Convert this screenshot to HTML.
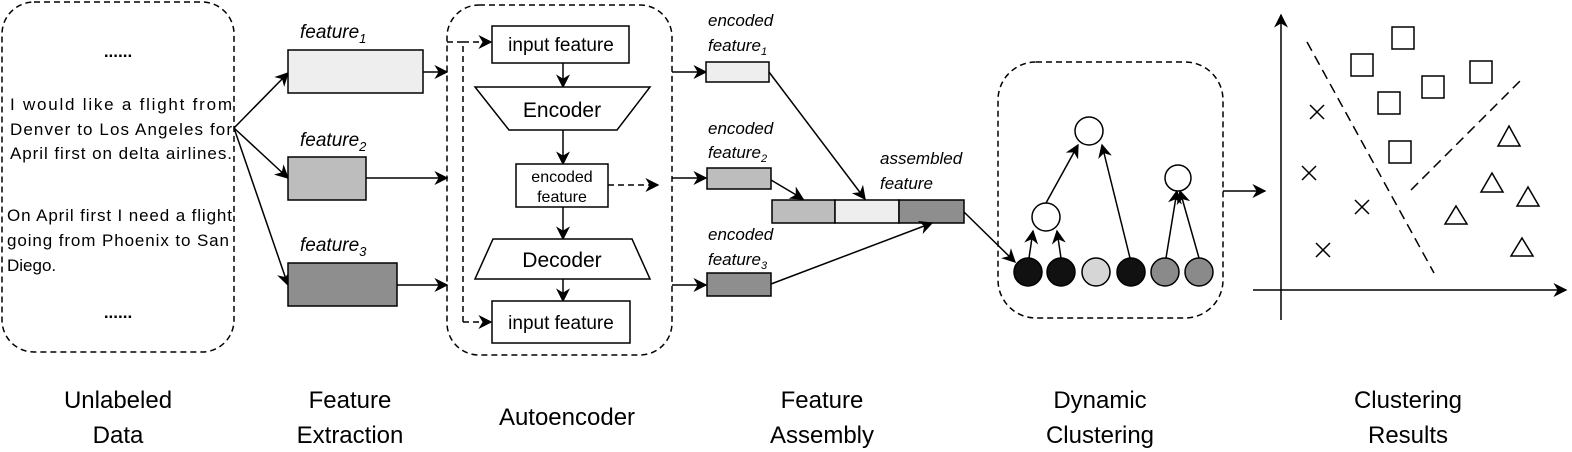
<!DOCTYPE html>
<html><head><meta charset="utf-8"><style>
html,body{margin:0;padding:0;background:#fff}
svg{display:block}
text{font-family:"Liberation Sans",sans-serif;fill:#000}
.it{font-style:italic}
</style></head><body>
<svg width="1572" height="452" viewBox="0 0 1572 452" xmlns="http://www.w3.org/2000/svg">
<defs>
<marker id="b" viewBox="0 0 10 10" refX="9" refY="5" markerWidth="14" markerHeight="14" orient="auto" markerUnits="userSpaceOnUse"><path d="M0,0 L10,5 L0,10 L3,5 z" fill="#000"/></marker>
</defs>
<g fill="none" stroke="#000" stroke-width="1.5">
<rect x="2" y="2" width="232" height="350" rx="32" stroke-dasharray="6,4"/>
<rect x="447" y="5" width="225" height="350" rx="32" stroke-dasharray="6,4"/>
<rect x="998" y="62" width="225" height="256" rx="38" stroke-dasharray="6,4"/>
<line x1="234" y1="128" x2="288" y2="73" marker-end="url(#b)"/>
<line x1="234" y1="128" x2="288" y2="178" marker-end="url(#b)"/>
<line x1="234" y1="128" x2="288" y2="285" marker-end="url(#b)"/>
<line x1="423" y1="72" x2="447" y2="72" marker-end="url(#b)"/>
<line x1="366" y1="178" x2="447" y2="178" marker-end="url(#b)"/>
<line x1="397" y1="285" x2="447" y2="285" marker-end="url(#b)"/>
<path d="M447,42 H463 V322" stroke-dasharray="6,4"/>
<line x1="463" y1="42" x2="491" y2="42" stroke-dasharray="6,4" marker-end="url(#b)"/>
<line x1="463" y1="322" x2="491" y2="322" stroke-dasharray="6,4" marker-end="url(#b)"/>
<rect x="492" y="26" width="137" height="37" fill="#fff"/>
<line x1="563" y1="63" x2="563" y2="87" marker-end="url(#b)"/>
<polygon points="475,87 650,87 617,130 509,130" fill="#fff"/>
<line x1="563" y1="130" x2="563" y2="164" marker-end="url(#b)"/>
<rect x="516" y="164" width="92" height="43" fill="#fff"/>
<line x1="608" y1="185" x2="658" y2="185" stroke-dasharray="6,4" marker-end="url(#b)"/>
<line x1="563" y1="207" x2="563" y2="239" marker-end="url(#b)"/>
<polygon points="493,239 632,239 650,279 475,279" fill="#fff"/>
<line x1="563" y1="279" x2="563" y2="301" marker-end="url(#b)"/>
<rect x="492" y="301" width="138" height="42" fill="#fff"/>
<line x1="672" y1="72" x2="706" y2="72" marker-end="url(#b)"/>
<line x1="672" y1="178" x2="706" y2="178" marker-end="url(#b)"/>
<line x1="672" y1="285" x2="706" y2="285" marker-end="url(#b)"/>
<rect x="288" y="50" width="135" height="43" fill="#eeeeee"/>
<rect x="288" y="157" width="78" height="43" fill="#bdbdbd"/>
<rect x="288" y="263" width="109" height="43" fill="#8e8e8e"/>
<rect x="706" y="62" width="63" height="20" fill="#eeeeee"/>
<rect x="707" y="168" width="64" height="21" fill="#bdbdbd"/>
<rect x="707" y="273" width="64" height="23" fill="#8e8e8e"/>
<rect x="772" y="200" width="63" height="23" fill="#bdbdbd"/>
<rect x="835" y="200" width="64" height="23" fill="#eeeeee"/>
<rect x="899" y="200" width="65" height="23" fill="#8e8e8e"/>
<line x1="769" y1="72" x2="865" y2="199" marker-end="url(#b)"/>
<line x1="771" y1="180" x2="803" y2="199" marker-end="url(#b)"/>
<line x1="771" y1="284" x2="932" y2="223" marker-end="url(#b)"/>
<line x1="964" y1="212" x2="1015" y2="262" marker-end="url(#b)"/>
<line x1="1029" y1="258" x2="1033" y2="231" marker-end="url(#b)"/>
<line x1="1061" y1="258" x2="1057" y2="231" marker-end="url(#b)"/>
<line x1="1046" y1="203" x2="1078" y2="145" marker-end="url(#b)"/>
<line x1="1130" y1="258" x2="1102" y2="145" marker-end="url(#b)"/>
<line x1="1166" y1="258" x2="1177" y2="191" marker-end="url(#b)"/>
<line x1="1199" y1="258" x2="1180" y2="191" marker-end="url(#b)"/>
<circle cx="1046" cy="217" r="14" fill="#fff"/>
<circle cx="1089" cy="131" r="14" fill="#fff"/>
<circle cx="1178" cy="178" r="13" fill="#fff"/>
<circle cx="1028" cy="272" r="14" fill="#111"/>
<circle cx="1061" cy="272" r="14" fill="#111"/>
<circle cx="1096" cy="272" r="14" fill="#d6d6d6"/>
<circle cx="1131" cy="272" r="14" fill="#111"/>
<circle cx="1165" cy="272" r="14" fill="#8a8a8a"/>
<circle cx="1199" cy="272" r="14" fill="#8a8a8a"/>
<line x1="1223" y1="191" x2="1265" y2="191" marker-end="url(#b)"/>
<line x1="1281" y1="320" x2="1281" y2="15" marker-end="url(#b)"/>
<line x1="1253" y1="290" x2="1566" y2="290" marker-end="url(#b)"/>
<line x1="1307" y1="42" x2="1434" y2="273" stroke-dasharray="10,6"/>
<line x1="1411" y1="190" x2="1524" y2="77" stroke-dasharray="10,6"/>
<g>
<rect x="1392" y="27" width="22" height="22"/>
<rect x="1351" y="54" width="22" height="22"/>
<rect x="1422" y="76" width="22" height="22"/>
<rect x="1378" y="92" width="22" height="22"/>
<rect x="1470" y="61" width="22" height="22"/>
<rect x="1389" y="141" width="22" height="22"/>
</g>
<g>
<path d="M1310,105 l14,14 M1324,105 l-14,14"/>
<path d="M1302,166 l14,14 M1316,166 l-14,14"/>
<path d="M1355,200 l14,14 M1369,200 l-14,14"/>
<path d="M1316,243 l14,14 M1330,243 l-14,14"/>
</g>
<g>
<polygon points="1509,126 1520,146 1498,146"/>
<polygon points="1492,173 1503,192 1481,192"/>
<polygon points="1528,187 1539,206 1517,206"/>
<polygon points="1456,206 1467,224 1445,224"/>
<polygon points="1522,238 1533,256 1511,256"/>
</g>
</g>
<g font-size="17">
<text x="118" y="57" text-anchor="middle" font-weight="bold">......</text>
<text x="118" y="318" text-anchor="middle" font-weight="bold">......</text>
<text x="10" y="110" textLength="222" lengthAdjust="spacing">I would like a flight from</text>
<text x="10" y="135" textLength="222" lengthAdjust="spacing">Denver to Los Angeles for</text>
<text x="10" y="159" textLength="222" lengthAdjust="spacing">April first on delta airlines.</text>
<text x="7" y="221" textLength="225" lengthAdjust="spacing">On April first I need a flight</text>
<text x="7" y="246" textLength="222" lengthAdjust="spacing">going from Phoenix to San</text>
<text x="7" y="271">Diego.</text>
</g>
<g font-size="19" class="it">
<text x="300" y="38" class="it">feature<tspan font-size="13" dy="5">1</tspan></text>
<text x="300" y="146" class="it">feature<tspan font-size="13" dy="5">2</tspan></text>
<text x="300" y="251" class="it">feature<tspan font-size="13" dy="5">3</tspan></text>
</g>
<g font-size="19">
<text x="561" y="51" text-anchor="middle">input feature</text>
<text x="562" y="117" text-anchor="middle" font-size="21">Encoder</text>
<text x="562" y="182" text-anchor="middle" font-size="16">encoded</text>
<text x="562" y="202" text-anchor="middle" font-size="16">feature</text>
<text x="562" y="267" text-anchor="middle" font-size="21">Decoder</text>
<text x="561" y="329" text-anchor="middle">input feature</text>
</g>
<g font-size="17" class="it">
<text x="708" y="26" class="it">encoded</text>
<text x="708" y="51" class="it">feature<tspan font-size="11" dy="4">1</tspan></text>
<text x="708" y="134" class="it">encoded</text>
<text x="708" y="158" class="it">feature<tspan font-size="11" dy="4">2</tspan></text>
<text x="708" y="240" class="it">encoded</text>
<text x="708" y="265" class="it">feature<tspan font-size="11" dy="4">3</tspan></text>
<text x="880" y="164" class="it">assembled</text>
<text x="880" y="189" class="it">feature</text>
</g>
<g font-size="24" text-anchor="middle">
<text x="118" y="408">Unlabeled</text><text x="118" y="443">Data</text>
<text x="350" y="408">Feature</text><text x="350" y="443">Extraction</text>
<text x="567" y="425">Autoencoder</text>
<text x="822" y="408">Feature</text><text x="822" y="443">Assembly</text>
<text x="1100" y="408">Dynamic</text><text x="1100" y="443">Clustering</text>
<text x="1408" y="408">Clustering</text><text x="1408" y="443">Results</text>
</g>
</svg>
</body></html>
